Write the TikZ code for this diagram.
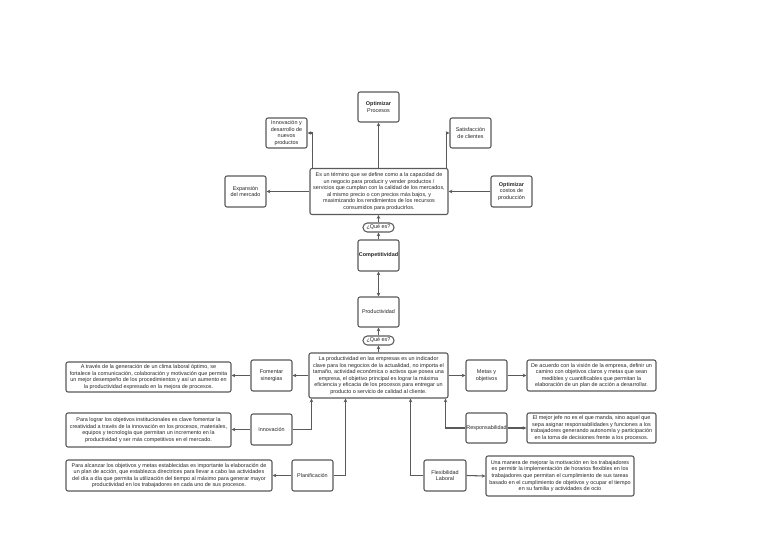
\documentclass[tikz,border=0pt]{standalone}
\usepackage{fontspec}
\setmainfont{Liberation Sans}
\usetikzlibrary{arrows.meta}
\definecolor{linegray}{HTML}{5A5A5A}
\tikzset{
 caja/.style={draw=linegray, line width=.8pt, rounded corners=1.5pt, align=center, inner sep=0pt, text=black!85, font=\fontsize{4.08}{4.95}\selectfont},
 flecha/.style={draw=linegray, line width=.8pt, ->, >={Stealth[length=2.8pt, width=2.6pt]}},
 pregunta/.style={caja, rounded corners=3.3pt},
 sz/.style 2 args={minimum width=#1*.75pt, minimum height=#2*.75pt},
}
\begin{document}
\begin{tikzpicture}[x=.75pt, y=-.75pt]
\useasboundingbox (0,0) rectangle (768,543);
\fill[white] (0,0) rectangle (768,543);
% parte de arriba
\node[caja, sz={41}{30}] (procesos) at (378.5,107) {\textbf{Optimizar}\\Procesos};
\node[caja, sz={41}{30}] (nuevos) at (286.5,133) {Innovación y\\desarrollo de\\nuevos\\productos};
\node[caja, sz={41}{30}] (clientes) at (470.5,133) {Satisfacción\\de clientes};
\node[caja, sz={41}{31}] (mercado) at (245.5,191.5) {Expansión\\del mercado};
\node[caja, sz={41}{31}] (costos) at (511.5,191.5) {\textbf{Optimizar}\\costos de\\producción};
\node[caja, sz={138}{46}] (defcomp) at (379,191.5) {Es un término que se define como a la capacidad de\\un negocio para producir y vender productos /\\servicios que cumplan con la calidad de los mercados,\\al mismo precio o con precios más bajos, y\\maximizando los rendimientos de los recursos\\consumidos para producirlos.};
\node[pregunta, sz={31}{9}] (quecomp) at (378.5,227.5) {¿Qué es?};
\node[caja, sz={41}{31}] (comp) at (378.5,255.5) {\textbf{Competitividad}};
% parte central
\node[caja, sz={41}{30}] (prod) at (378.5,312) {Productividad};
\node[pregunta, sz={31}{9}] (queprod) at (378.5,340.5) {¿Qué es?};
\node[caja, sz={139}{45}] (defprod) at (378.5,375.5) {La productividad en las empresas es un indicador\\clave para los negocios de la actualidad, no importa el\\tamaño, actividad económica o activos que posea una\\empresa, el objetivo principal es lograr la máxima\\eficiencia y eficacia de los procesos para entregar un\\producto o servicio de calidad al cliente.};
% lado izquierdo
\node[caja, sz={41}{31}] (sinergias) at (271.5,375.5) {Fomentar\\sinergias};
\node[caja, sz={165}{30}] (txtsin) at (148.5,377) {A través de la generación de un clima laboral óptimo, se\\fortalece la comunicación, colaboración y motivación que permita\\un mejor desempeño de los procedimientos y así un aumento en\\la productividad expresado en la mejora de procesos.};
\node[caja, sz={41}{31}] (innova) at (271.5,429.5) {Innovación};
\node[caja, sz={165}{34}] (txtinn) at (148.5,430) {Para lograr los objetivos institucionales es clave fomentar la\\creatividad a través de la innovación en los procesos, materiales,\\equipos y tecnología que permitan un incremento en la\\productividad y ser más competitivos en el mercado.};
\node[caja, sz={41}{31}] (plan) at (312.5,475.5) {Planificación};
\node[caja, sz={206}{31}] (txtplan) at (169,475.5) {Para alcanzar los objetivos y metas establecidas es importante la elaboración de\\un plan de acción, que establezca directrices para llevar a cabo las actividades\\del día a día que permita la utilización del tiempo al máximo para generar mayor\\productividad en los trabajadores en cada uno de sus procesos.};
% lado derecho
\node[caja, sz={41}{31}] (metas) at (486.5,375.5) {Metas y\\objetivos};
\node[caja, sz={129}{31}] (txtmet) at (591.5,375.5) {De acuerdo con la visión de la empresa, definir un\\camino con objetivos claros y metas que sean\\medibles y cuantificables que permitan la\\elaboración de un plan de acción a desarrollar.};
\node[caja, sz={41}{30}] (resp) at (486.5,428) {Responsabilidad};
\node[caja, sz={129}{30}] (txtres) at (591.5,428) {El mejor jefe no es el que manda, sino aquel que\\sepa asignar responsabilidades y funciones a los\\trabajadores generando autonomía y participación\\en la toma de decisiones frente a los procesos.};
\node[caja, sz={42}{31}] (flex) at (445,475.5) {Flexibilidad\\Laboral};
\node[caja, sz={148}{40}] (txtflex) at (560,476) {Una manera de mejorar la motivación en los trabajadores\\es permitir la implementación de horarios flexibles en los\\trabajadores que permitan el cumplimiento de sus tareas\\basado en el cumplimiento de objetivos y ocupar el tiempo\\en su familia y actividades de ocio};
% conectores
\draw[flecha] (defcomp.north -| procesos) -- (procesos);
\draw[flecha] ([xshift=2.25pt]defcomp.north west) |- (nuevos.east);
\draw[flecha] ([xshift=-1.5pt]defcomp.north east) |- (clientes.west);
\draw[flecha] (defcomp.west) -- (mercado.east);
\draw[flecha] (costos.west) -- (defcomp.east);
\draw[flecha] (quecomp) -- (defcomp.south -| quecomp);
\draw[flecha] (comp) -- (quecomp);
\draw[flecha, <->] (comp) -- (prod);
\draw[flecha] (queprod) -- (prod);
\draw[flecha] (defprod.north -| queprod) -- (queprod);
\draw[flecha] (defprod.west) -- (sinergias.east);
\draw[flecha] (sinergias.west) -- (sinergias.west -| txtsin.east);
\draw[flecha] (innova.east) -| ([xshift=2.25pt]defprod.south west);
\draw[flecha] (innova.west) -- (innova.west -| txtinn.east);
\draw[flecha] (plan.east) -| ([xshift=27.75pt]defprod.south west);
\draw[flecha] (plan.west) -- (txtplan.east);
\draw[flecha] (defprod.east |- metas) -- (metas.west);
\draw[flecha] (metas.east) -- (txtmet.west);
\draw[flecha] (resp.west) -| ([xshift=-2.25pt]defprod.south east);
\draw[flecha] (resp.east) -- (txtres.west);
\draw[flecha] (flex.west) -| ([xshift=-28.5pt]defprod.south east);
\draw[flecha] (flex.east) -- (txtflex.west);
\end{tikzpicture}
\end{document}
